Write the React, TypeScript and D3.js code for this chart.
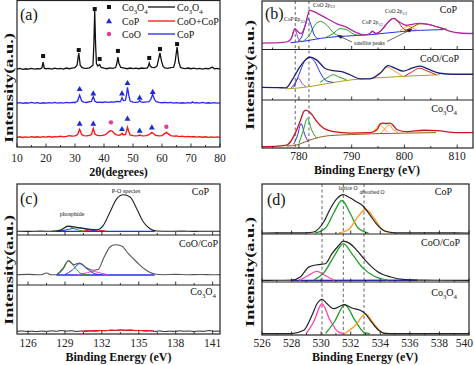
import React from "react";
import * as d3 from "d3";

type Pt = [number, number];

const FONT = "'Liberation Serif','Times New Roman',serif";

// ---------------- (a) XRD ----------------
const xrdTicks = [10, 20, 30, 40, 50, 60, 70, 80];

const xrdCo3O4: Pt[] = [
  [10, 53.4], [11, 53.8], [12, 53.2], [13, 53.6], [14, 53.3], [15, 53.9], [16, 53.4], [17, 53.7], [18, 53.5],
  [18.6, 54.2], [19.0, 58.2], [19.4, 54.0], [20, 53.6], [21, 53.9], [22, 53.3], [23, 54.0], [24, 53.5], [25, 53.8],
  [26, 53.4], [27, 54.1], [28, 53.6], [29, 54.0], [30, 54.3], [30.7, 56], [31.3, 64.4], [31.8, 56], [32.4, 54.5],
  [33, 54.0], [34, 53.8], [35, 54.2], [36.2, 56], [36.5, 70], [36.8, 93.2], [37.1, 70], [37.4, 57], [37.9, 55.5],
  [38.5, 56.5], [39.0, 54.5], [40, 54.0], [41, 53.6], [42, 54.2], [43, 53.9], [44, 54.4], [44.4, 57], [44.8, 61.6],
  [45.2, 57], [45.8, 54.5], [47, 54.0], [48, 53.6], [49, 54.1], [50, 53.7], [51, 54.0], [52, 53.6], [53, 54.1],
  [54, 53.8], [55, 54.2], [55.3, 55.5], [55.6, 57.5], [55.9, 55.5], [56.5, 54.6], [57.5, 54.4], [58.3, 55.5],
  [58.8, 60], [59.3, 64.4], [59.8, 59], [60.4, 55], [61, 54.2], [62, 53.9], [63, 54.3], [64, 54.6], [64.5, 58],
  [65.2, 68.5], [65.8, 58], [66.4, 54.5], [67, 54.0], [68, 53.7], [69, 54.1], [70, 53.6], [71, 54.0], [72, 53.5],
  [73, 53.9], [74, 53.4], [75, 53.8], [76, 53.6], [77, 54.3], [77.3, 54.8], [77.8, 54.0], [78, 53.5], [79, 53.8], [80, 53.4],
];

const xrdCoP: Pt[] = [
  [10, 30.0], [11, 30.4], [12, 29.9], [13, 30.3], [14, 30.0], [15, 30.5], [16, 30.1], [17, 30.4], [18, 29.9],
  [19, 30.3], [20, 30.0], [21, 30.4], [22, 30.1], [23, 30.5], [24, 30.0], [25, 30.4], [26, 30.1], [27, 30.5],
  [28, 30.2], [29, 30.6], [30, 30.5], [30.9, 31.5], [31.6, 35.6], [32.3, 31.5], [33, 30.7], [34, 30.5], [35, 31.0],
  [35.7, 31.3], [36.3, 34.5], [36.9, 31.2], [37.6, 30.6], [38.5, 30.8], [39.5, 30.5], [40.5, 30.9], [41.5, 30.6],
  [42.5, 30.9], [43.5, 30.7], [44.5, 31.2], [45.5, 31.0], [45.8, 31.6], [46.2, 33.8], [46.7, 31.8], [47.4, 32.0],
  [47.8, 36], [48.1, 40.9], [48.5, 36], [49, 31.5], [50, 30.8], [51, 30.6], [51.9, 30.9], [52.3, 31.7], [52.8, 30.9],
  [53.5, 30.6], [54.5, 30.9], [55.5, 31.1], [56.1, 32.5], [56.8, 36.1], [57.4, 32.5], [58, 31.0], [59, 30.6],
  [60, 30.3], [61, 30.6], [62, 30.2], [63, 30.5], [64, 30.1], [65, 30.4], [66, 30.0], [67, 30.3], [68, 30.0],
  [69, 30.4], [70, 30.1], [70.5, 30.9], [71, 30.2], [72, 30.4], [73, 30.0], [74, 30.5], [75, 30.1], [76, 30.3],
  [77, 30.0], [78, 30.4], [79, 30.1], [80, 30.2],
];

const xrdCoOCoP: Pt[] = [
  [10, 6.6], [11, 7.0], [12, 6.5], [13, 6.9], [14, 6.6], [15, 7.1], [16, 6.7], [17, 7.0], [18, 6.6], [19, 7.1],
  [20, 6.8], [21, 7.2], [22, 6.7], [23, 7.1], [24, 6.9], [25, 7.5], [26, 7.0], [27, 7.3], [28, 7.8], [29, 7.4],
  [30, 7.6], [30.9, 8.5], [31.6, 12.1], [32.3, 8.6], [33, 7.8], [34, 7.6], [35, 8.0], [35.7, 8.6], [36.3, 12.8],
  [36.9, 8.8], [37.6, 7.9], [38.5, 7.8], [39.5, 8.0], [40.5, 8.4], [41.3, 9.8], [42.0, 11.0], [42.4, 11.2],
  [42.9, 10.8], [43.6, 9.2], [44.3, 8.3], [45.2, 8.0], [45.8, 8.5], [46.2, 9.4], [46.6, 8.4], [47.4, 8.5],
  [47.8, 11], [48.1, 13.5], [48.5, 11], [49, 8.3], [50, 7.8], [51, 7.6], [51.9, 7.8], [52.3, 8.2], [52.8, 7.8],
  [53.5, 7.6], [54.5, 7.8], [55.5, 8.4], [56.0, 9.2], [56.5, 10.0], [57.0, 9.2], [57.8, 8.0], [59, 7.6], [60, 7.8],
  [60.8, 9.0], [61.5, 10.0], [62.2, 9.0], [63, 7.8], [64, 7.4], [65, 7.6], [66, 7.1], [67, 7.4], [68, 7.0],
  [69, 7.3], [70, 6.9], [71, 7.2], [72, 6.8], [73, 7.1], [74, 6.7], [75, 7.0], [76, 6.6], [77, 6.9], [78, 6.6],
  [79, 6.9], [80, 6.6],
];

const markCo3O4: Pt[] = [[19, 62.3], [31.3, 66.4], [36.8, 94.5], [38.5, 60.3], [44.8, 65.8], [55.6, 61], [59.3, 67.1], [65.2, 70.5]];
const markCoP: Pt[] = [
  [31.6, 39.5], [36.3, 36.5], [46.2, 36.5], [48.1, 43.6], [52.3, 33.6], [56.8, 37.5],
  [31.6, 15.8], [36.3, 15.8], [46.2, 12.1], [48.1, 19.2], [52.3, 11], [56.5, 13.2],
];
const markCoO: Pt[] = [[42.4, 16.9], [61.5, 13.9]];

// ---------------- (b) Co 2p ----------------
const coTicks = [780, 790, 800, 810];
const coMinor = [775, 785, 795, 805];
const coDashes = [779.3, 781.9];

const bCoPData: Pt[] = [
  [773, 13], [775, 13.5], [777, 14.5], [778, 17], [778.7, 26], [779.2, 43], [779.8, 37], [780.4, 33], [781.2, 50],
  [781.7, 72], [782.0, 81], [782.6, 79], [783.4, 75], [785.3, 64], [787.2, 53], [789, 46], [790.7, 36], [792.3, 30],
  [793.3, 31], [793.9, 38], [794.5, 33], [795.5, 38], [796.4, 50], [797.5, 62], [798.0, 64], [799.0, 57], [800.3, 50],
  [801.5, 52], [802.8, 54], [804.5, 52], [806.5, 46], [808.5, 38], [810.5, 34], [813, 33],
];
const bCoPBg: Pt[] = [[778.4, 14], [780.9, 17], [784.1, 23], [787.2, 26.5], [790.4, 28.5], [793.5, 30.5], [796.7, 34], [799.9, 37.5], [803, 39.5], [807.4, 41]];
const bCoPPeak1: Pt[] = [[778.0, 15], [778.5, 22], [779.2, 42], [779.9, 22], [780.5, 17]];
const bCoPPeak2: Pt[] = [[779.8, 17], [780.6, 28], [781.2, 50], [781.7, 64], [782.3, 50], [782.9, 30], [783.7, 22]];
const bCoPPeak3: Pt[] = [[780.8, 17], [782, 30], [783, 50], [784.1, 58], [785.3, 50], [786.7, 33], [788.5, 26]];
const bCoPPeak4: Pt[] = [[785, 24], [786.5, 33], [787.8, 43], [789, 41], [790.3, 32], [791.5, 29]];
const bCoPPeak5: Pt[] = [[793, 30.5], [793.6, 34], [794, 37], [794.5, 34], [795, 31.5]];
const bCoPPeak6: Pt[] = [[794.8, 32], [796, 43], [797, 58], [797.9, 64], [798.8, 57], [799.8, 43], [801, 38]];
const bCoPPeak7: Pt[] = [[799, 37], [800, 45], [800.8, 48], [801.8, 43], [802.5, 39.5]];
const bCoPPeak8: Pt[] = [[800, 38], [801.5, 46], [803, 53], [804.5, 52], [806, 47], [808, 42]];

const bMixData: Pt[] = [
  [773, 25], [776, 24.5], [777.5, 24], [778.9, 43], [780.2, 66], [781.2, 79], [782.1, 85], [783.4, 79], [784.9, 63],
  [786.5, 58], [788.1, 56], [789.7, 50], [791.6, 42], [793.5, 42], [795.4, 53], [796.9, 68], [798.2, 63], [799.8, 57],
  [801.4, 63], [803, 67], [804.5, 61], [806.7, 53], [809.3, 51], [813, 51],
];
const bMixBg: Pt[] = [[777.5, 22], [781, 25], [785, 32], [790, 40], [795, 44], [800, 47], [806.7, 50]];
const bMixPeak1: Pt[] = [[778.5, 23], [779.2, 33], [779.9, 43], [780.6, 33], [781.3, 26]];
const bMixPeak2: Pt[] = [[779, 25], [780, 50], [781, 76], [782, 85], [783, 76], [784, 55], [785.2, 38], [786.5, 35]];
const bMixPeak3: Pt[] = [[784, 35], [785.5, 45], [786.5, 50], [787.5, 46], [789, 40]];
const bMixPeak4: Pt[] = [[794, 44], [795.5, 55], [796.8, 65], [798, 58], [799.5, 48]];
const bMixPeak5: Pt[] = [[800, 47], [801.5, 56], [802.8, 63], [804.2, 58], [806, 50]];

const bOxData: Pt[] = [
  [773, 3], [776, 4], [777.7, 6], [778.4, 13], [779.3, 31], [780.3, 58], [780.9, 76], [781.3, 79], [781.9, 76],
  [782.5, 69], [783.4, 55], [784.7, 41], [786.6, 34], [789.7, 31], [793.5, 32], [794.8, 38], [795.4, 50], [795.9, 52],
  [796.5, 51], [797.2, 52], [797.8, 48], [798.6, 38], [800.5, 34], [803.7, 37], [806.2, 36], [810, 32], [813, 32],
];
const bOxBg: Pt[] = [[777.7, 4], [779.5, 6], [781, 12], [783, 20], [786, 26], [790, 28], [795, 30], [800, 31], [806, 32]];
const bOxPeak1: Pt[] = [[779, 8], [779.7, 25], [780.4, 51], [781.1, 28], [781.8, 12]];
const bOxPeak2: Pt[] = [[780, 10], [780.8, 35], [781.6, 62], [782.4, 38], [783.4, 20]];
const bOxPeak3: Pt[] = [[793.8, 30], [794.6, 40], [795.3, 50], [796, 42], [796.8, 33]];
const bOxPeak4: Pt[] = [[795.5, 31], [796.3, 40], [797.1, 48], [797.9, 38], [798.8, 32]];

// ---------------- (c) P 2p ----------------
const pTicks = [126, 129, 132, 135, 138, 141];
const pMinor = [127.5, 130.5, 133.5, 136.5, 139.5];

const cCoPFit: Pt[] = [
  [125.1, 7.5], [126, 7.2], [127, 7.6], [128, 7.3], [128.6, 8.6], [129.25, 17.5], [129.95, 15], [130.77, 12.1],
  [131.58, 10.4], [132.12, 19], [132.66, 45], [133.2, 71], [133.74, 79], [134.29, 74.5], [134.83, 51.6], [135.37, 25.5],
  [135.91, 12.4], [136.46, 7.8], [137.5, 7.3], [138.5, 7.6], [139.5, 7.2], [140.5, 7.5], [141.6, 7.3],
];
const cCoPPeak1: Pt[] = [[127.9, 7.3], [128.6, 10], [129.25, 17], [129.9, 11], [130.5, 7.5]];
const cCoPPeak2: Pt[] = [[128.6, 7.5], [129.3, 11], [130, 14.3], [130.8, 11], [131.6, 7.5]];
const cCoPPeak3: Pt[] = [[130.3, 7.3], [130.9, 9], [131.4, 10], [131.9, 9], [132.4, 7.3]];
const cCoPBase: Pt[] = [[128.3, 7], [136.3, 7]];

const cMixData: Pt[] = [
  [125.1, 20.5], [126, 21.2], [127, 20.4], [127.5, 24], [127.9, 20.4], [128.3, 20.6], [128.86, 32.6], [129.27, 48],
  [129.73, 40.6], [130.2, 44], [130.77, 34], [131.3, 29.4], [131.71, 31.4], [132.12, 52.6], [132.66, 76], [133.07, 80.6],
  [133.61, 78], [134.15, 62.6], [134.83, 46], [135.5, 31.4], [136.2, 22.6], [137, 20.6], [138, 21.2], [139, 20.5],
  [140, 21], [141, 20.4], [141.6, 20.8],
];
const cMixPeak1: Pt[] = [[128.3, 20.6], [128.8, 33], [129.3, 49], [129.8, 35], [130.4, 22], [131, 20.6]];
const cMixPeak2: Pt[] = [[129, 20.6], [129.6, 30], [130.2, 42.6], [130.8, 32], [131.5, 22], [132, 20.6]];
const cMixPeak3: Pt[] = [[130, 20.6], [130.7, 24], [131.3, 27], [131.9, 24], [132.5, 20.6]];
const cMixBase: Pt[] = [[128.3, 20], [136.3, 20]];

const cOxData: Pt[] = [
  [125.1, 5.5], [125.5, 6.2], [125.9, 5.1], [126.3, 5.8], [126.7, 4.9], [127.1, 6.0], [127.5, 5.3], [127.9, 6.4],
  [128.3, 5.6], [128.7, 7.0], [129.1, 5.8], [129.5, 6.6], [129.9, 5.2], [130.3, 6.1], [130.7, 5.4], [131.1, 6.3],
  [131.5, 5.7], [131.9, 7.2], [132.3, 6.5], [132.7, 8.0], [133.1, 7.2], [133.5, 8.4], [133.9, 7.6], [134.3, 8.2],
  [134.7, 6.8], [135.1, 7.4], [135.5, 6.0], [135.9, 6.6], [136.3, 5.4], [136.7, 6.2], [137.1, 5.0], [137.5, 5.9],
  [137.9, 5.3], [138.3, 6.4], [138.7, 5.6], [139.1, 6.1], [139.5, 5.2], [139.9, 6.0], [140.3, 5.5], [140.7, 7.0],
  [141.1, 5.7], [141.6, 6.0],
];
const cOxFit: Pt[] = [[130.5, 6.5], [131.5, 6.8], [132.5, 7.2], [133.5, 7.6], [134.5, 7.4], [135.5, 6.8], [136.2, 6.5]];

// ---------------- (d) O 1s ----------------
const oTicks = [526, 528, 530, 532, 534, 536, 538, 540];
const oMinor = [527, 529, 531, 533, 535, 537, 539];
const oDashes = [530.06, 531.5, 532.9];

const dCoPData: Pt[] = [
  [526, 2], [527, 2.3], [528, 2.1], [529, 2.4], [529.5, 4], [530.17, 24], [530.62, 50.6], [531.07, 70.6], [531.48, 78.6],
  [531.86, 74], [532.42, 64], [532.83, 56], [533.32, 37.4], [533.78, 18.6], [534.34, 5.4], [535, 2.4], [536, 2.2],
  [537, 2.4], [538, 2.1], [539, 2.3], [540, 2],
];
const dCoPPeak1: Pt[] = [[529.6, 2], [530.3, 12], [530.85, 42], [531.4, 67], [531.95, 42], [532.5, 12], [533.2, 2]];
const dCoPPeak2: Pt[] = [[531.2, 2], [531.9, 10], [532.4, 31], [533, 49], [533.6, 31], [534.1, 10], [534.8, 2]];

const dMixData: Pt[] = [
  [526, 3.5], [527, 3.6], [528, 3.8], [528.59, 10.4], [529.16, 31], [529.72, 36], [530.28, 38], [530.73, 59],
  [531.19, 76], [531.48, 85], [531.9, 81], [532.42, 66], [532.9, 48], [533.4, 32], [533.8, 22], [534.7, 10.4],
  [535.7, 5], [537, 3.8], [538, 3.6], [540, 3.5],
];
const dMixPeak1: Pt[] = [[528.5, 3.5], [529.1, 13], [529.7, 22], [530.3, 13], [530.9, 3.5]];
const dMixPeak2: Pt[] = [[529.5, 4], [530.2, 20], [530.9, 55], [531.5, 80], [532.1, 58], [532.8, 30], [533.6, 12], [534.5, 4]];
const dMixBase: Pt[] = [[528, 3], [536.5, 3.5]];

const dOxData: Pt[] = [
  [526, 2.5], [527, 2.7], [528, 2.6], [528.82, 8.9], [529.38, 37.2], [529.72, 59], [530.06, 67.4], [530.4, 59],
  [530.85, 49.6], [531.3, 54.7], [531.56, 57.2], [532.09, 50.9], [532.65, 46.6], [532.98, 40.2], [533.32, 27.7],
  [533.78, 11.9], [534.3, 3], [535, 2.6], [537, 2.7], [540, 2.5],
];
const dOxPeak1: Pt[] = [[529.0, 3], [529.5, 25], [530.06, 59], [530.6, 28], [531.2, 5], [531.6, 2.5]];
const dOxPeak2: Pt[] = [[530.3, 3], [530.9, 25], [531.6, 57], [532.3, 27], [532.9, 5], [533.3, 2.5]];
const dOxPeak3: Pt[] = [[531.6, 3], [532.3, 18], [533, 40], [533.6, 20], [534.2, 4], [534.6, 2.5]];

// ---------------- helpers ----------------
type Series = { d: Pt[]; c: string; w?: number };

function Chem({ x, y, size, parts, anchor = "start", weight = "normal" }: {
  x: number; y: number; size: number; parts: string[]; anchor?: string; weight?: string;
}) {
  let sub = false;
  return (
    <text x={x} y={y} fontSize={size} textAnchor={anchor} fontFamily={FONT} fontWeight={weight} fill="#111">
      {parts.map((p, i) => {
        const isSub = p.startsWith("_");
        const dy = isSub && !sub ? size * 0.3 : !isSub && sub ? -size * 0.3 : 0;
        sub = isSub;
        return (
          <tspan key={i} dy={dy} fontSize={isSub ? size * 0.68 : size}>
            {isSub ? p.slice(1) : p}
          </tspan>
        );
      })}
    </text>
  );
}

function Sub({ xs, top, bottom, series }: { xs: d3.ScaleLinear<number, number>; top: number; bottom: number; series: Series[] }) {
  const ys = d3.scaleLinear().domain([0, 100]).range([bottom, top]);
  const gen = d3.line<Pt>().x(d => xs(d[0])).y(d => ys(d[1])).curve(d3.curveMonotoneX);
  return (
    <g>
      {series.map((s, i) => (
        <path key={i} d={gen(s.d) || ""} fill="none" stroke={s.c} strokeWidth={s.w ?? 1} strokeLinejoin="round" />
      ))}
    </g>
  );
}

function Ticks({ xs, major, minor, y }: { xs: d3.ScaleLinear<number, number>; major: number[]; minor: number[]; y: number }) {
  return (
    <g stroke="#222" strokeWidth={0.9}>
      {major.map(v => <line key={"M" + v} x1={xs(v)} x2={xs(v)} y1={y} y2={y - 3.5} />)}
      {minor.map(v => <line key={"m" + v} x1={xs(v)} x2={xs(v)} y1={y} y2={y - 2} />)}
    </g>
  );
}

function TickLabels({ xs, vals, y }: { xs: d3.ScaleLinear<number, number>; vals: number[]; y: number }) {
  return (
    <g fontFamily={FONT} fontSize={11.5} fill="#222">
      {vals.map(v => {
        const px = xs(v);
        const edge = px > 464;
        return <text key={v} x={edge ? 473 : px} y={y} textAnchor={edge ? "end" : "middle"}>{v}</text>;
      })}
    </g>
  );
}

function YLabel({ x, y }: { x: number; y: number }) {
  return (
    <text transform={`translate(${x},${y}) rotate(-90)`} textAnchor="middle" fontFamily={FONT}
      fontWeight="bold" fontSize={13} textLength={110} lengthAdjust="spacingAndGlyphs" fill="#111">
      Intensity(a.u.)
    </text>
  );
}

function XLabel({ x, y, text }: { x: number; y: number; text: string }) {
  return (
    <text x={x} y={y} textAnchor="middle" fontFamily={FONT} fontWeight="bold" fontSize={12} fill="#111">{text}</text>
  );
}

function Frame({ x0, x1, ys }: { x0: number; x1: number; ys: number[] }) {
  return (
    <g stroke="#222" fill="none">
      <rect x={x0} y={ys[0]} width={x1 - x0} height={ys[ys.length - 1] - ys[0]} strokeWidth={1.2} />
      {ys.slice(1, -1).map(y => <line key={y} x1={x0} x2={x1} y1={y} y2={y} strokeWidth={1} />)}
    </g>
  );
}

function Dashes({ xs, vals, top, bottom }: { xs: d3.ScaleLinear<number, number>; vals: number[]; top: number; bottom: number }) {
  return (
    <g stroke="#555" strokeWidth={0.9} strokeDasharray="3,2.5">
      {vals.map(v => <line key={v} x1={xs(v)} x2={xs(v)} y1={top} y2={bottom} />)}
    </g>
  );
}

// ---------------- App ----------------
export default function App() {
  // panel (a)
  const ax = d3.scaleLinear().domain([10, 80]).range([17, 220]);
  const ay = d3.scaleLinear().domain([0, 100]).range([147, 1]);
  const linA = d3.line<Pt>().x(d => ax(d[0])).y(d => ay(d[1]));
  const tri = d3.symbol(d3.symbolTriangle, 15)() || "";

  // panel (b)
  const bYs = [1, 49.5, 100, 148];
  const bx = d3.scaleLinear().domain([773, 813]).range([262, 473]);
  // panel (c)
  const cYs = [184, 235, 285, 334];
  const cx = d3.scaleLinear().domain([125.1, 141.6]).range([17, 220]);
  // panel (d)
  const dYs = [184, 234, 282, 335];
  const dx = d3.scaleLinear().domain([526, 540]).range([262, 469]);

  const PURPLE = "#9b3fd0", MAG = "#b02a9c", BLUE = "#2230e8", GREEN = "#1f9e2a", RED = "#e0201c",
    ORANGE = "#ff9a22", BROWN = "#9a5a1a", OLIVE = "#a8a21c", NAVY = "#1c1f78", PINK = "#ff3fb0";

  return (
    <svg width={474} height={365} style={{ position: "absolute", left: 0, top: 0, background: "#fff" }}>
      <rect width={474} height={365} fill="#fff" />

      {/* ===== (a) ===== */}
      <path d={linA(xrdCo3O4) || ""} fill="none" stroke="#111" strokeWidth={1.3} />
      <path d={linA(xrdCoP) || ""} fill="none" stroke="#2828f0" strokeWidth={1.3} />
      <path d={linA(xrdCoOCoP) || ""} fill="none" stroke="#ff1010" strokeWidth={1.3} />
      {markCo3O4.map((d, i) => <rect key={i} x={ax(d[0]) - 2} y={ay(d[1]) - 2} width={4} height={4} fill="#111" />)}
      {markCoP.map((d, i) => <path key={i} d={tri} transform={`translate(${ax(d[0])},${ay(d[1])})`} fill="#1c2ad8" />)}
      {markCoO.map((d, i) => <circle key={i} cx={ax(d[0])} cy={ay(d[1])} r={2.2} fill="#e23a9a" />)}
      <Frame x0={17} x1={220} ys={[0.5, 147]} />
      <Ticks xs={ax} major={xrdTicks} minor={[15, 25, 35, 45, 55, 65, 75]} y={147} />
      <TickLabels xs={ax} vals={xrdTicks} y={161.5} />
      <XLabel x={118.5} y={175.5} text="2θ(degrees)" />
      <YLabel x={13} y={88} />
      <text x={20} y={19.5} fontFamily={FONT} fontSize={16} fill="#111">(a)</text>
      {/* legend */}
      <rect x={107} y={5} width={4} height={4} fill="#111" />
      <path d={tri} transform="translate(109,21.5)" fill="#1c2ad8" />
      <circle cx={109} cy={34} r={2.2} fill="#e23a9a" />
      <Chem x={122} y={10.5} size={10} parts={["Co", "_3", "O", "_4"]} />
      <Chem x={122} y={24.5} size={10} parts={["CoP"]} />
      <Chem x={122} y={37.5} size={10} parts={["CoO"]} />
      <line x1={148} x2={175} y1={7} y2={7} stroke="#111" strokeWidth={1.3} />
      <line x1={148} x2={175} y1={21} y2={21} stroke="#ff1010" strokeWidth={1.3} />
      <line x1={148} x2={175} y1={34} y2={34} stroke="#2828f0" strokeWidth={1.3} />
      <Chem x={177} y={10.5} size={10} parts={["Co", "_3", "O", "_4"]} />
      <Chem x={177} y={24.5} size={10} parts={["CoO+CoP"]} />
      <Chem x={177} y={37.5} size={10} parts={["CoP"]} />

      {/* ===== (b) ===== */}
      <Dashes xs={bx} vals={coDashes} top={bYs[0]} bottom={bYs[3]} />
      <Sub xs={bx} top={bYs[0]} bottom={bYs[1]} series={[
        { d: bCoPBg, c: BLUE },
        { d: bCoPPeak3, c: GREEN }, { d: bCoPPeak4, c: GREEN },
        { d: bCoPPeak2, c: BLUE }, { d: bCoPPeak1, c: PURPLE }, { d: bCoPPeak5, c: PURPLE },
        { d: bCoPPeak7, c: ORANGE }, { d: bCoPPeak8, c: BROWN }, { d: bCoPPeak6, c: RED },
        { d: bCoPData, c: MAG, w: 1.3 },
      ]} />
      <Sub xs={bx} top={bYs[1]} bottom={bYs[2]} series={[
        { d: bMixBg, c: OLIVE },
        { d: bMixPeak3, c: GREEN }, { d: bMixPeak1, c: PURPLE }, { d: bMixPeak2, c: BLUE },
        { d: bMixPeak4, c: ORANGE }, { d: bMixPeak5, c: RED },
        { d: bMixData, c: NAVY, w: 1.3 },
      ]} />
      <Sub xs={bx} top={bYs[2]} bottom={bYs[3]} series={[
        { d: bOxBg, c: BROWN },
        { d: bOxPeak1, c: BLUE }, { d: bOxPeak2, c: GREEN },
        { d: bOxPeak3, c: ORANGE }, { d: bOxPeak4, c: ORANGE },
        { d: bOxData, c: "#c8141a", w: 1.3 },
      ]} />
      <Frame x0={262} x1={473} ys={bYs} />
      {bYs.slice(1).map(y => <Ticks key={y} xs={bx} major={coTicks} minor={coMinor} y={y} />)}
      <TickLabels xs={bx} vals={coTicks} y={160} />
      <XLabel x={367} y={174} text="Binding Energy (eV)" />
      <YLabel x={254} y={75} />
      <text x={265} y={18.5} fontFamily={FONT} fontSize={16} fill="#111">(b)</text>
      <Chem x={457} y={13} size={10} anchor="end" parts={["CoP"]} />
      <Chem x={459} y={62} size={10} anchor="end" parts={["CoO/CoP"]} />
      <Chem x={457} y={112} size={10} anchor="end" parts={["Co", "_3", "O", "_4"]} />
      <Chem x={284} y={21} size={5.5} parts={["CoP 2p", "_3/2"]} />
      <Chem x={313} y={6.5} size={5.5} parts={["CoO 2p", "_3/2"]} />
      <Chem x={362} y={24} size={5.5} parts={["CoP 2p", "_1/2"]} />
      <Chem x={385} y={13} size={5.5} parts={["CoO 2p", "_1/2"]} />
      <Chem x={354} y={44.5} size={5.5} parts={["satellite peaks"]} />
      <g stroke="#222" strokeWidth={0.7} fill="#222">
        <line x1={352} y1={42} x2={340} y2={36.5} />
        <path d="M338,35.5 L342.5,36 L340.8,38.6 Z" />
        <line x1={387} y1={41.5} x2={410} y2={30} />
        <path d="M412,29 L407.5,29.6 L409.3,32.2 Z" />
      </g>

      {/* ===== (c) ===== */}
      <Sub xs={cx} top={cYs[0]} bottom={cYs[1]} series={[
        { d: cCoPBase, c: BLUE, w: 1.3 }, { d: cCoPPeak3, c: RED }, { d: cCoPPeak2, c: BLUE },
        { d: cCoPPeak1, c: GREEN }, { d: cCoPFit, c: "#222", w: 1.1 },
      ]} />
      <Sub xs={cx} top={cYs[1]} bottom={cYs[2]} series={[
        { d: cMixBase, c: BLUE, w: 1.3 }, { d: cMixPeak3, c: PINK }, { d: cMixPeak2, c: BLUE },
        { d: cMixPeak1, c: GREEN }, { d: cMixData, c: "#555", w: 1.1 },
      ]} />
      <Sub xs={cx} top={cYs[2]} bottom={cYs[3]} series={[
        { d: cOxData, c: "#222", w: 1 }, { d: cOxFit, c: RED, w: 1.1 },
      ]} />
      <Frame x0={17} x1={220} ys={cYs} />
      {cYs.slice(1).map(y => <Ticks key={y} xs={cx} major={pTicks} minor={pMinor} y={y} />)}
      <TickLabels xs={cx} vals={pTicks} y={346.5} />
      <XLabel x={118.5} y={361} text="Binding Energy (eV)" />
      <YLabel x={13} y={270} />
      <text x={20} y={203.5} fontFamily={FONT} fontSize={16} fill="#111">(c)</text>
      <Chem x={209} y={195} size={10} anchor="end" parts={["CoP"]} />
      <Chem x={218} y={247} size={10} anchor="end" parts={["CoO/CoP"]} />
      <Chem x={216} y={295} size={10} anchor="end" parts={["Co", "_3", "O", "_4"]} />
      <Chem x={126} y={193} size={6} anchor="middle" parts={["P-O species"]} />
      <Chem x={72} y={216} size={6} anchor="middle" parts={["phosphide"]} />

      {/* ===== (d) ===== */}
      <Dashes xs={dx} vals={oDashes} top={dYs[0]} bottom={dYs[3]} />
      <Sub xs={dx} top={dYs[0]} bottom={dYs[1]} series={[
        { d: dCoPPeak1, c: GREEN, w: 1.3 }, { d: dCoPPeak2, c: ORANGE, w: 1.3 }, { d: dCoPData, c: "#222", w: 1.2 },
      ]} />
      <Sub xs={dx} top={dYs[1]} bottom={dYs[2]} series={[
        { d: dMixBase, c: "#2a2aa8", w: 1.4 }, { d: dMixPeak1, c: PINK, w: 1.3 }, { d: dMixPeak2, c: GREEN, w: 1.3 },
        { d: dMixData, c: "#222", w: 1.2 },
      ]} />
      <Sub xs={dx} top={dYs[2]} bottom={dYs[3]} series={[
        { d: dOxPeak1, c: PINK, w: 1.3 }, { d: dOxPeak2, c: GREEN, w: 1.3 }, { d: dOxPeak3, c: ORANGE, w: 1.3 },
        { d: dOxData, c: "#222", w: 1.2 },
      ]} />
      <Frame x0={262} x1={469} ys={dYs} />
      {dYs.slice(1).map(y => <Ticks key={y} xs={dx} major={oTicks} minor={oMinor} y={y} />)}
      <TickLabels xs={dx} vals={oTicks} y={346.5} />
      <XLabel x={365} y={361} text="Binding Energy (eV)" />
      <YLabel x={254} y={272} />
      <text x={267} y={204.5} fontFamily={FONT} fontSize={16} fill="#111">(d)</text>
      <Chem x={452} y={195} size={10} anchor="end" parts={["CoP"]} />
      <Chem x={460} y={246} size={10} anchor="end" parts={["CoO/CoP"]} />
      <Chem x={457} y={296} size={10} anchor="end" parts={["Co", "_3", "O", "_4"]} />
      <Chem x={348} y={190} size={5.5} anchor="middle" parts={["lattice O"]} />
      <Chem x={372} y={193.5} size={5.5} anchor="middle" parts={["absorbed O"]} />
    </svg>
  );
}
